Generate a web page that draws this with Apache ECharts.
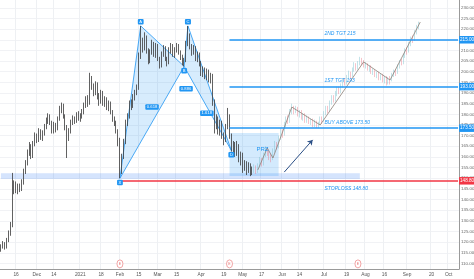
<!DOCTYPE html>
<html><head><meta charset="utf-8">
<script src="https://cdn.jsdelivr.net/npm/echarts@6/dist/echarts.min.js"></script>
<style>html,body{margin:0;padding:0;background:#fff}#c{width:474px;height:279px}</style>
</head><body><div id="c"></div>
<script>
// ---------- data ----------
const startDate = '2020-11-04';
const barCount = 243;
const xTickLabels = {
  '2020-11-16':'16','2020-12-01':'Dec','2020-12-14':'14','2021-01-01':'2021','2021-01-18':'18',
  '2021-02-01':'Feb','2021-02-15':'15','2021-03-01':'Mar','2021-03-15':'15','2021-04-01':'Apr',
  '2021-04-19':'19','2021-05-03':'May','2021-05-17':'17','2021-06-01':'Jun','2021-06-14':'14',
  '2021-07-01':'Jul','2021-07-19':'19','2021-08-02':'Aug','2021-08-16':'16','2021-09-01':'Sep',
  '2021-09-20':'20','2021-10-01':'Oct'
};
const yTicks = [110,115,120,125,130,135,140,145,150,155,160,165,170,175,180,185,190,195,200,205,210,215,220,225,230];

// [open, close, low, high]
const candles = [
[116.5,118,115.5,119],[118,119.5,117,120.5],[119.5,117.5,116.5,120],[117.5,121,117,122],[121,124,120,125.5],
[124,128,123,129.5],[128,145,127,152.5],[145,147,142.5,149],[147,144,143,148.5],[144,146,142.5,147.5],
[146,145,143.5,147.5],[145,148,144,149.5],[148,153,147,154.5],[153,157,152,158.5],[157,162,156,163.5],
[162,165,160.5,167],[165,160,159,166],[160,166,159.5,167.5],[166,170,165,171.5],[170,168,166.5,171],
[168,172,167,173.5],[172,169,168,173],[169,171,167.5,172.5],[171,174,170,175.5],[174,177,173,178.5],
[177,179,175.5,180.5],[179,176,175,180],[176,172,171,177],[172,175,171,176.5],[175,173,171.5,176],
[173,178,172.5,179],[178,182,177,184],[182,184,180.5,185.5],[184,179,178,185],[179,174,172.5,180],
[174,169,159.5,175],[169,172,167.5,173.5],[172,176,171,177.5],[176,178,175,179.5],[178,177,175.5,179],
[177,180,176,181],[180,178,177,181.5],[178,179,176.5,180.5],[179,181,178,182.5],[181,184,180,185.5],
[184,187,183,188.5],[187,185,183.5,189],[185,196,184.5,199.5],[196,193,191.5,198],[193,190,188.5,194.5],
[190,194,189,195.5],[194,188,187,195],[188,186,184,190],[186,190,185,191.5],[190,185,184,191],
[185,187,183.5,188.5],[187,183,182,188],[183,185,181.5,186.5],[185,181,180,186],[181,178,176.5,182],
[178,176,174.5,179],[176,172,171,177],[172,168,165,173],[168,153,150,169],[153,160,152,161.5],
[160,167,159,168.5],[167,176,166,177.5],[176,179,174.5,180.5],[179,185,178,186.5],[185,184,182,187],
[184,188,183,189.5],[188,190,186.5,191.5],[190,192,189,194],[192,207,191.5,209],[207,214,206,221.5],
[214,211,209,216],[211,216,210,218.5],[216,210,208.5,217],[210,205,203.5,211],[205,209,204,210.5],
[209,213,208,215],[213,208,207,214],[208,212,206.5,213.5],[212,206,205,213],[206,203,201.5,207],
[203,208,202,209.5],[208,211,207,212.5],[211,206,205,212],[206,204,202.5,207],[204,210,203.5,211.5],
[210,212,208.5,213.5],[212,208,207,213],[208,210,206.5,211.5],[210,212,209,213.5],[212,209,208,213],
[209,207,205.5,210],[207,204,203,208],[204,205,202.5,206.5],[205,213,204.5,214.5],[213,217,212,221.5],
[217,212,210.5,218],[212,209,207.5,213],[209,211,208,212.5],[211,206,205,212],[206,208,204.5,209.5],
[208,204,202.5,209],[204,199,198,205],[199,201,197.5,202.5],[201,198,196.5,202],[198,200,196,201.5],
[200,196,195,201],[196,198,194.5,199.5],[198,186,184,199],[186,175,171,187],[175,178,173,180],
[178,172,170.5,179],[172,176,170,177.5],[176,170,168.5,177],[170,168,165.5,171.5],[168,174,167,175.5],
[174,179,173,183],[179,170,168.5,180],[170,164,162.5,171],[164,166,162,167.5],[166,162,160,167],
[162,165,160.5,167.5],[165,159,157.5,166],[159,161,156,162.5],[161,155,152.5,162],[155,157,153.5,158.5],
[157,154,151.5,158],[154,156,152.5,157.5],[156,153,151,157],[153,154,151.5,155.5]
];

const ghostStart = 134;
const ghostCandles = [
[154,155,152.5,156.5],[155,153.5,152,156],[153.5,156,152.5,157],[156,158.5,155,160],[158.5,157,155.5,159.5],
[157,161,156,162],[161,163.5,160,165],[163.5,162,160.5,164.5],[162,160,158.5,163],[160,159.5,157.5,161.5],
[159.5,163,158.5,164],[163,166,162,167.5],[166,165,163.5,167],[165,169,164,170],[169,172,168,173.5],
[172,170.5,169,173],[170.5,175,170,176.5],[175,178,174,179],[178,177,175.5,179.5],[177,181,176,182.5],
[181,183,180,185],[183,181.5,180,184],[181.5,182.5,180.5,184],[182.5,180,179,183.5],[180,181,178.5,182],
[181,178.5,177.5,182],[178.5,179.5,177,180.5],[179.5,177,176,180.5],[177,178.5,176,179.5],[178.5,176.5,175.5,179],
[176.5,177,175,178],[177,175,174,178],[175,176.5,174,177.5],[176.5,174.5,173.5,177],[174.5,175.5,173.5,176.5],
[175.5,178,175,179],[178,177,175.5,179],[177,180.5,176.5,181.5],[180.5,183,179.5,184],[183,182,180.5,184],
[182,185.5,181.5,186.5],[185.5,188,184.5,189],[188,186.5,185.5,189],[186.5,189.5,186,191],[189.5,192,188.5,193],
[192,190.5,189.5,193],[190.5,193.5,190,194.5],[193.5,196,192.5,197],[196,194.5,193.5,197],[194.5,197.5,194,198.5],
[197.5,199,196.5,200.5],[199,198,196.5,200],[198,201,197.5,202],[201,203,200,204.5],[203,201.5,200.5,204],
[201.5,204,201,205],[204,205.5,203,207],[205.5,204.5,203,206.5],[204.5,203,202,205.5],[203,203.5,201.5,204.5],
[203.5,201.5,200.5,204],[201.5,202,200,203],[202,200,199,203],[200,200.5,198.5,201.5],[200.5,198.5,197.5,201],
[198.5,199,197,200],[199,197,196,200],[197,198,196,199],[198,196.5,195,199],[196.5,197,194.5,198],
[197,195,193.5,198],[195,196.5,194,197.5],[196.5,196,194,198],[196,198.5,195.5,199.5],[198.5,200,197.5,201],
[200,199.5,198,201],[199.5,202.5,199,203.5],[202.5,204.5,201.5,205.5],[204.5,204,203,206],[204,207.5,203.5,208.5],
[207.5,210,206.5,211],[210,209.5,208,211.5],[209.5,213,209,214],[213,215.5,212,216.5],[215.5,215,213.5,217],
[215,218.5,214.5,219.5],[218.5,221,217.5,222],[221,222.5,220,223.5]
];

const pathIdx   = [136, 141, 144, 154, 169, 192, 206, 222];
const pathPrice = [153.9, 164.2, 159.5, 183.4, 175, 204.6, 196.1, 223.3];

const patternNames = ['X','A','B','C','D'];
const patternIdx   = [63, 74, 97, 99, 122];
const patternPrice = [150, 221.5, 202.5, 221.5, 163];
const ratioIdx   = [80, 98, 109];
const ratioPrice = [183.5, 192, 180.5];
const ratioText  = ['0.618', '0.886', '1.618'];

const targetNames  = ['2ND TGT 215', '1ST TGT 193', 'BUY ABOVE 173.50'];
const targetPrices = [215, 193, 173.5];
const stopLoss = 148.8;
const lastPrice = 154;
const bandTop = 152.4, bandBottom = 149.6;
const przTop = 171.2, przBottom = 151;
const earningsIdx = [63, 121, 189];

// ---------- build ----------
const dates = [];
(function(){ let d = new Date(startDate + 'T00:00:00Z');
  while (dates.length < barCount) { const w = d.getUTCDay(); if (w !== 0 && w !== 6) dates.push(d.toISOString().slice(0,10)); d.setUTCDate(d.getUTCDate()+1); } })();

const realData = dates.map((_, i) => i < candles.length ? candles[i] : '-');
const ghostData = dates.map((_, i) => (i >= ghostStart && i - ghostStart < ghostCandles.length) ? ghostCandles[i - ghostStart] : '-');
const pathData = pathIdx.map((i, k) => [i, pathPrice[k]]);
const tri = (a, b, c) => [patternIdx[a], patternPrice[a], patternIdx[b], patternPrice[b], patternIdx[c], patternPrice[c]];
const triangles = [tri(0,1,2), tri(2,3,4)];
const lastIdx = barCount - 1;
const BLUE = '#2196F3', RED = '#F23645';
const showTick = (i, v) => xTickLabels[v] !== undefined;

const tagLabel = (txt, bg) => ({show:true, position:'end', distance:1, formatter:txt, backgroundColor:bg, color:'#fff',
  fontSize:4.6, padding:[1.5,1,1,1], fontFamily:'Liberation Sans'});

const hLines = targetPrices.map(p => [
  {coord:[121, p], lineStyle:{color:BLUE, width:1.6, type:'solid'}, label:tagLabel(p.toFixed(2), BLUE)},
  {coord:[lastIdx, p]}
]);
hLines.push([
  {coord:[63, stopLoss], lineStyle:{color:RED, width:1.6, type:'solid'}, label:tagLabel(stopLoss.toFixed(2), RED)},
  {coord:[lastIdx, stopLoss]}
]);
hLines.push([
  {coord:[133, lastPrice], lineStyle:{opacity:0}, label:tagLabel(lastPrice.toFixed(2) + '\n16:42:08', '#6f7278')},
  {coord:[lastIdx, lastPrice]}
]);
hLines.push([
  {coord:[150, 152.9], symbol:'none', lineStyle:{color:'#2b4f86', width:1, type:'solid'}, label:{show:false}},
  {coord:[165, 168], symbol:'arrow'}
]);

const textPts = targetNames.map((t, k) => ({coord:[171, targetPrices[k]], label:{formatter:t, offset:[0,-6]}}));
textPts.push({coord:[171, stopLoss], label:{formatter:'STOPLOSS ' + stopLoss.toFixed(2), offset:[0,8]}});
textPts.push({coord:[135, 163.5], label:{formatter:'PRZ', fontSize:6, fontStyle:'normal'}});

const patternPts = patternNames.map((n, k) => ({coord:[patternIdx[k], patternPrice[k]],
  label:{formatter:n, position:(k % 2 === 0) ? 'bottom' : 'top'}}));
ratioText.forEach((t, k) => patternPts.push({coord:[ratioIdx[k], ratioPrice[k]], label:{formatter:t, position:'inside'}}));

const chart = echarts.init(document.getElementById('c'), null, {renderer:'canvas'});
chart.setOption({
  animation:false,
  backgroundColor:'#ffffff',
  grid:{left:0, right:15, top:0, bottom:10, containLabel:false, outerBoundsMode:'none'},
  xAxis:{type:'category', data:dates, boundaryGap:true,
    axisLine:{show:true, lineStyle:{color:'#9a9a9a', width:1}},
    axisTick:{show:false},
    axisLabel:{interval:showTick, formatter:v => xTickLabels[v] || '', fontSize:4.8, color:'#555', margin:3, fontFamily:'Liberation Sans'},
    splitLine:{show:true, interval:showTick, lineStyle:{color:'#eef0f3', width:1}}},
  yAxis:{type:'value', position:'right', min:107.4, max:233.67, scale:true,
    axisLine:{show:true, lineStyle:{color:'#9a9a9a', width:1}},
    axisTick:{show:false, customValues:yTicks},
    axisLabel:{customValues:yTicks, formatter:v => v.toFixed(2), fontSize:4.4, color:'#666', margin:2, fontFamily:'Liberation Sans'},
    splitLine:{show:true, lineStyle:{color:'#f1f2f5', width:1}}},
  series:[
    {type:'custom', silent:true, z:2, data:triangles, encode:{x:[0,2,4], y:[1,3,5]},
      renderItem:(params, api) => {
        const pts = [0,1,2].map(k => api.coord([api.value(k*2), api.value(k*2+1)]));
        return {type:'polygon', shape:{points:pts}, style:{fill:'rgba(33,150,243,0.18)', stroke:BLUE, lineWidth:0.8}};
      }},
    {type:'candlestick', name:'price', z:3, data:realData, barMaxWidth:1.4,
      itemStyle:{color:'#ffffff', color0:'#3a3a3a', borderColor:'#3a3a3a', borderColor0:'#3a3a3a', borderWidth:0.8}},
    {type:'candlestick', name:'ghost', z:3, data:ghostData, barMaxWidth:1.4,
      itemStyle:{color:'rgba(120,200,210,0.45)', color0:'rgba(240,120,135,0.45)', borderColor:'rgba(120,190,205,0.55)', borderColor0:'rgba(235,120,135,0.55)', borderWidth:0.8}},
    {type:'line', name:'path', z:4, data:pathData, symbol:'none', silent:true,
      lineStyle:{color:'#8d7f76', width:0.8},
      markArea:{silent:true, z:1, data:[
        [{coord:[0, bandTop], itemStyle:{color:'rgba(66,133,244,0.22)'}}, {coord:[190, bandBottom]}],
        [{coord:[121, przTop], itemStyle:{color:'rgba(33,150,243,0.2)'}}, {coord:[147, przBottom]}]
      ]},
      markLine:{silent:true, symbol:['none','none'], symbolSize:5, animation:false, data:hLines},
      markPoint:{silent:true, symbol:'circle', symbolSize:1, itemStyle:{color:'rgba(0,0,0,0)'},
        label:{show:true, position:'right', distance:0, color:BLUE, fontSize:5, fontStyle:'italic', fontFamily:'Liberation Sans'},
        data:textPts}
    },
    {type:'line', name:'pattern', z:6, data:[], symbol:'none', silent:true,
      markPoint:{silent:true, symbol:'circle', symbolSize:1, itemStyle:{color:'rgba(0,0,0,0)'},
        label:{show:true, distance:1, color:'#fff', backgroundColor:BLUE, fontSize:4.2, padding:[1,1.5,0.5,1.5], borderRadius:1, fontFamily:'Liberation Sans'},
        data:patternPts}
    },
    {type:'line', name:'events', z:6, data:[], symbol:'none', silent:true,
      markPoint:{silent:true, symbol:'circle', symbolSize:[6,8], itemStyle:{color:'#fff', borderColor:'#ef8f8f', borderWidth:0.8},
        label:{show:true, position:'inside', formatter:'E', color:'#e57373', fontSize:3.5},
        data:earningsIdx.map(i => ({coord:[i, 109.8]}))}
    }
  ]
});
</script></body></html>
